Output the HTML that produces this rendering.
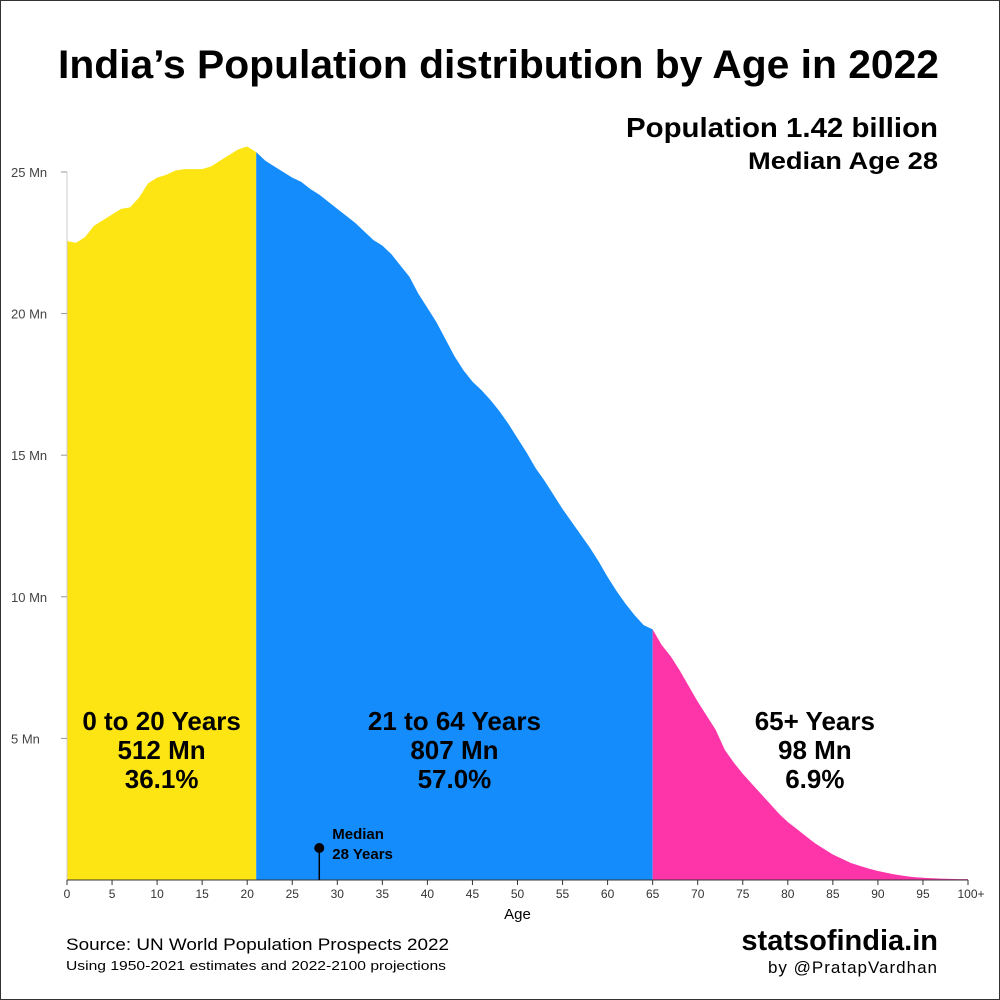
<!DOCTYPE html>
<html><head><meta charset="utf-8">
<style>
body{margin:0;background:#fff;}
#wrap{position:relative;width:998px;height:998px;border:1px solid #333;overflow:hidden;font-family:"Liberation Sans",sans-serif;}
</style></head>
<body>
<div id="wrap">
<svg id="chart" width="998" height="998">
<text x="57" y="77" font-size="40" font-weight="bold" fill="#000" textLength="881" lengthAdjust="spacingAndGlyphs">India’s Population distribution by Age in 2022</text>
<text x="937" y="136" text-anchor="end" font-size="28" font-weight="bold" textLength="312" lengthAdjust="spacingAndGlyphs">Population 1.42 billion</text>
<text x="937" y="168" text-anchor="end" font-size="24" font-weight="bold" textLength="190" lengthAdjust="spacingAndGlyphs">Median Age 28</text>
<g id="areas"></g>
<g id="axes"></g>
<g id="labels"></g>
<text x="65" y="949" font-size="17" textLength="383" lengthAdjust="spacingAndGlyphs">Source: UN World Population Prospects 2022</text>
<text x="65" y="969" font-size="13" textLength="380" lengthAdjust="spacingAndGlyphs">Using 1950-2021 estimates and 2022-2100 projections</text>
<text x="937" y="949" text-anchor="end" font-size="29" font-weight="bold">statsofindia.in</text>
<text x="937" y="972" text-anchor="end" font-size="17" letter-spacing="1">by @PratapVardhan</text>
</svg>
</div>
<script>
const ages=[];for(let i=0;i<=100;i++)ages.push(i);
const population=[22.56,22.5,22.7,23.1,23.3,23.5,23.7,23.75,24.1,24.6,24.8,24.9,25.05,25.1,25.1,25.1,25.2,25.4,25.6,25.8,25.9,
25.7,25.4,25.2,25.0,24.8,24.65,24.4,24.2,23.95,23.7,23.45,23.2,22.9,22.6,22.4,22.1,21.7,21.3,20.7,20.2,19.7,19.1,18.5,18.0,17.6,17.3,16.95,16.55,16.1,15.6,15.1,14.55,14.1,13.6,13.1,12.65,12.2,11.75,11.25,10.7,10.2,9.75,9.35,9.0,
8.85,8.3,7.9,7.4,6.85,6.3,5.8,5.3,4.6,4.15,3.75,3.4,3.05,2.7,2.35,2.05,1.8,1.55,1.3,1.1,0.9,0.75,0.6,0.5,0.4,0.32,0.25,0.19,0.14,0.1,0.08,0.06,0.05,0.04,0.03,0.03];
const yTicks=[5,10,15,20,25];
const xTicks=[0,5,10,15,20,25,30,35,40,45,50,55,60,65,70,75,80,85,90,95,100];
const groupNames=["0 to 20 Years","21 to 64 Years","65+ Years"];
const groupTotals=["512 Mn","807 Mn","98 Mn"];
const groupShares=["36.1%","57.0%","6.9%"];
const groupStart=[0,21,65];
const groupEnd=[21,65,100];
const groupColors=["#fce512","#148cfc","#fd35a8"];
const medianAge=28;
const NS="http://www.w3.org/2000/svg";
const X=a=>66+a*9.01, Y=v=>879-v*28.32;
function mk(tag,attrs,parent){const e=document.createElementNS(NS,tag);for(const k in attrs)e.setAttribute(k,attrs[k]);parent.appendChild(e);return e;}
const areas=document.getElementById('areas'),axes=document.getElementById('axes'),labels=document.getElementById('labels');
groupStart.forEach((s,g)=>{
  const e=groupEnd[g];let d=`M${X(s)},${Y(0)}`;
  for(let a=s;a<=e;a++)d+=` L${X(a)},${Y(population[a])}`;
  d+=` L${X(e)},${Y(0)} Z`;
  const p=mk('path',{d:d,fill:groupColors[g]},areas);
  
  
  const cx=g==2?X(83):(X(s)+X(e))/2;
  [groupNames[g],groupTotals[g],groupShares[g]].forEach((t,i)=>{
    const tx=mk('text',{x:cx,y:729+i*29,'text-anchor':'middle','font-size':26,'font-weight':'bold'},labels);
    tx.textContent=t;
    
    
  });
});
const yl=mk('line',{x1:66,x2:66,y1:Y(25),y2:Y(0),stroke:'#ccc'},axes);


const xl=mk('line',{x1:66,x2:X(100),y1:879,y2:879,stroke:'#333'},axes);


yTicks.forEach(v=>{
  const t=mk('text',{x:10,y:Y(v)+5,'font-size':13,fill:'#444'},axes);t.textContent=v+' Mn';
  
  
  mk('line',{x1:60,x2:66,y1:Y(v),y2:Y(v),stroke:'#999'},axes);
});
xTicks.forEach(v=>{
  mk('line',{x1:X(v),x2:X(v),y1:879,y2:884,stroke:'#333'},axes);
  const t=mk('text',{x:X(v)+(v==100?3:0),y:897,'text-anchor':'middle','font-size':12,fill:'#333'},axes);t.textContent=v==100?'100+':v;
  
  
});
const xt=mk('text',{x:X(50),y:918,'text-anchor':'middle','font-size':15},axes);xt.textContent='Age';


const mx=X(medianAge);
mk('line',{x1:mx,x2:mx,y1:848,y2:879,stroke:'#000','stroke-width':1.5},labels);
const md=mk('circle',{cx:mx,cy:847,r:5,fill:'#000'},labels);


const m1=mk('text',{x:mx+13,y:838,'font-size':15,'font-weight':'bold'},labels);m1.textContent='Median';


const m2=mk('text',{x:mx+13,y:858,'font-size':15,'font-weight':'bold'},labels);m2.textContent=medianAge+' Years';


</script>
</body></html>
